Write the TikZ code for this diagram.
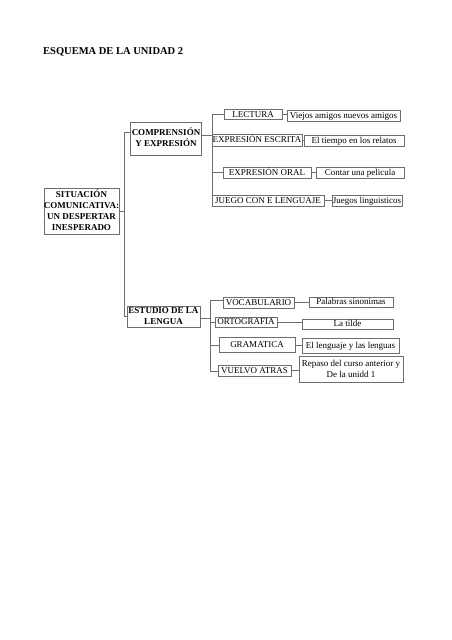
\documentclass[tikz,border=0pt]{standalone}
\usepackage{fontspec}
\setmainfont{Liberation Serif}
\definecolor{lc}{RGB}{110,110,110}
\newcommand\bxt[1]{\makebox[0pt]{\raisebox{-3pt}[0pt][0pt]{$\vcenter{\hbox{\begin{tabular}{@{}c@{}}#1\end{tabular}}}$}}}
\begin{document}
\begin{tikzpicture}[x=1pt,y=-1pt,
  bx/.style 2 args={draw=lc, line width=0.6pt, inner sep=0pt, minimum width=#1, minimum height=#2, font=\fontsize{9}{11}\selectfont},
  bb/.style 2 args={bx={#1}{#2}, font=\fontsize{9}{11}\selectfont\bfseries},
  ln/.style={draw=lc, line width=0.6pt}]
\useasboundingbox (0,0) rectangle (452,640);
\node[anchor=base west, font=\fontsize{10.5}{12}\selectfont\bfseries, inner sep=0pt] (title) at (43,54) {ESQUEMA DE LA UNIDAD 2};
% main boxes
\node[bb={75pt}{46pt}] (sit) at (81.5,211.5) {\bxt{SITUACIÓN\\COMUNICATIVA:\\UN DESPERTAR\\INESPERADO}};
\node[bb={71pt}{33pt}] (comp) at (166,138.5) {\bxt{COMPRENSIÓN\\Y EXPRESIÓN}};
\node[bb={73pt}{21pt}] (est) at (163.5,316.5) {\bxt{ESTUDIO DE LA\\LENGUA}};
% first group
\node[bx={58pt}{10pt}] (lect) at (253,114.5) {\bxt{LECTURA}};
\node[bx={113pt}{11pt}] (viejos) at (343.5,115.5) {\bxt{Viejos amigos nuevos amigos}};
\node[bx={90pt}{12pt}] (escr) at (257,140) {\bxt{EXPRESIÓN ESCRITA}};
\node[bx={100pt}{11pt}] (tiempo) at (354,140.5) {\bxt{El tiempo en los relatos}};
\node[bx={88pt}{11pt}] (oral) at (267,172.5) {\bxt{EXPRESIÓN ORAL}};
\node[bx={88pt}{11pt}] (contar) at (360,172.5) {\bxt{Contar una pelicula}};
\node[bx={112pt}{11pt}] (juego) at (268,200.5) {\bxt{JUEGO CON E LENGUAJE}};
\node[bx={70pt}{11pt}] (juegos) at (367,200.5) {\bxt{Juegos linguisticos}};
% second group
\node[bx={71pt}{11pt}] (voc) at (258.5,302.5) {\bxt{VOCABULARIO}};
\node[bx={84pt}{10pt}] (pal) at (351,302) {\bxt{Palabras sinonimas}};
\node[bx={62pt}{10pt}] (orto) at (246,322) {\bxt{ORTOGRAFIA}};
\node[bx={91pt}{10pt}] (tilde) at (347.5,324) {\bxt{La tilde}};
\node[bx={76pt}{15pt}] (gram) at (257,345) {\bxt{GRAMATICA}};
\node[bx={97pt}{15pt}] (leng) at (350.5,346) {\bxt{El lenguaje y las lenguas}};
\node[bx={73pt}{11pt}] (vuel) at (254.5,370.5) {\bxt{VUELVO ATRAS}};
\node[bx={104pt}{26pt}] (rep) at (351,369.5) {\bxt{Repaso del curso anterior y\\De la unidd 1}};
% trunk
\coordinate (t1) at (124,132);
\coordinate (t2) at (124,316);
\draw[ln] (t1) -- (t2);
\draw[ln] (t1) -- (comp.west |- t1);
\draw[ln] (sit.east) -- (sit.east -| t1);
\draw[ln] (t2) -- (est.west |- t2);
% sub-trunk 1
\coordinate (s1a) at (212,114);
\coordinate (s1b) at (212,200);
\coordinate (c1) at (212,135);
\draw[ln] (s1a) -- (s1b);
\draw[ln] (c1 -| comp.east) -- (c1);
\draw[ln] (s1a) -- (lect.west |- s1a);
\draw[ln] (oral.west -| s1a) -- (oral.west);
% sub-trunk 2
\coordinate (s2a) at (210,300);
\coordinate (s2b) at (210,371);
\coordinate (c2) at (210,318);
\draw[ln] (s2a) -- (s2b);
\draw[ln] (c2 -| est.east) -- (c2);
\draw[ln] (s2a) -- (voc.west |- s2a);
\draw[ln] (orto.west -| s2a) -- (orto.west);
\draw[ln] (gram.west -| s2a) -- (gram.west);
\draw[ln] (s2b) -- (vuel.west |- s2b);
% leaf links
\draw[ln] (lect.east) -- (lect.east -| viejos.west);
\draw[ln] (escr.east) -- (escr.east -| tiempo.west);
\draw[ln] (oral.east) -- (oral.east -| contar.west);
\draw[ln] (juego.east) -- (juego.east -| juegos.west);
\draw[ln] (voc.east) -- (voc.east -| pal.west);
\draw[ln] (orto.east) -- (orto.east -| tilde.west);
\draw[ln] (gram.east) -- (gram.east -| leng.west);
\draw[ln] (vuel.east) -- (vuel.east -| rep.west);
\end{tikzpicture}
\end{document}
